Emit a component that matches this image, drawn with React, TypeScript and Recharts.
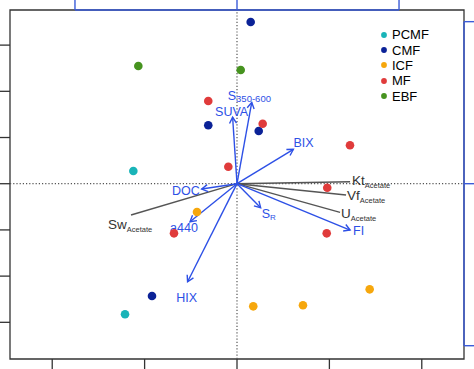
import React from "react";
import {
  Legend,
  ReferenceArea,
  ReferenceLine,
  Scatter,
  ScatterChart,
  XAxis,
  YAxis,
} from "recharts";

// site scores (bottom / left axes)
const pcmfX = [-1.122, -1.212];
const pcmfY = [0.137, -1.413];
const cmfX = [0.148, -0.311, 0.235, -0.92];
const cmfY = [1.75, 0.632, 0.57, -1.215];
const icfX = [-0.433, 0.176, 0.714, 1.436];
const icfY = [-0.306, -1.327, -1.316, -1.143];
const mfX = [-0.311, 0.278, 1.223, -0.094, 0.977, 0.971, -0.682];
const mfY = [0.895, 0.649, 0.416, 0.184, -0.043, -0.537, -0.537];
const ebfX = [-1.068, 0.04];
const ebfY = [1.274, 1.231];

const groupNames = ["PCMF", "CMF", "ICF", "MF", "EBF"];
const groupX = [pcmfX, cmfX, icfX, mfX, ebfX];
const groupY = [pcmfY, cmfY, icfY, mfY, ebfY];

// fitted vectors (top / right axes)
const vectorNames = ["S350", "SUVA", "BIX", "DOC", "SR", "FI", "a440", "HIX"];
const vectorMain = ["S", "SUVA", "BIX", "DOC", "S", "FI", "a440", "HIX"];
const vectorSub = ["350-600", "", "", "", "R", "", "", ""];
const vectorX = [0.091, -0.027, 0.348, -0.218, 0.146, 0.698, -0.29, -0.305];
const vectorY = [0.502, 0.41, 0.212, -0.033, -0.148, -0.286, -0.235, -0.605];

const kineticNames = ["Kt", "Vf", "U", "Sw"];
const kineticSub = ["Acetate", "Acetate", "Acetate", "Acetate"];
const kineticX = [0.698, 0.673, 0.636, -0.654];
const kineticY = [0.012, -0.07, -0.177, -0.193];

const siteTicksX = [-2, -1, 0, 1, 2];
const siteTicksY = [-1.5, -1, -0.5, 0, 0.5, 1, 1.5];
const vecTicks = [-1, 0, 1];

const colors: Record<string, string> = {
  PCMF: "#19b4b8",
  CMF: "#0b2297",
  ICF: "#f6a70d",
  MF: "#e03b3b",
  EBF: "#46931f",
};
const BLUE = "#2d50e6";
const AXBLUE = "#3a5bd8";
const GREY = "#555";
const FONT = "Liberation Sans, Arial, Helvetica, sans-serif";

const X_DOM: [number, number] = [-2.457, 2.457];
const Y_DOM: [number, number] = [-1.897, 1.88];
const VX_DOM: [number, number] = [-1.401, 1.401];
const VY_DOM: [number, number] = [-1.082, 1.072];

// label placement relative to the vector tip, in px
const labelPos: Record<string, { dx: number; dy: number; anchor: string }> = {
  S350: { dx: -24, dy: -2, anchor: "start" },
  SUVA: { dx: -1, dy: -1, anchor: "middle" },
  BIX: { dx: 0, dy: -2, anchor: "start" },
  DOC: { dx: -2, dy: 6, anchor: "end" },
  SR: { dx: 1, dy: 10, anchor: "start" },
  FI: { dx: 3, dy: 5, anchor: "start" },
  a440: { dx: -6, dy: 10, anchor: "middle" },
  HIX: { dx: -1, dy: 20, anchor: "middle" },
  Kt: { dx: 2, dy: 3.5, anchor: "start" },
  Vf: { dx: 1, dy: 5, anchor: "start" },
  U: { dx: 1, dy: 6, anchor: "start" },
  Sw: { dx: -23, dy: 14, anchor: "start" },
};

const seriesData = groupNames.map((g, gi) =>
  groupX[gi].map((x, i) => ({ x, y: groupY[gi][i] }))
);
const vectorTips = vectorX
  .map((x, i) => ({ vx: x, vy: vectorY[i] }))
  .concat(kineticX.map((x, i) => ({ vx: x, vy: kineticY[i] })));

function vectorShape(name: string, main: string, sub: string, arrow: boolean) {
  const pos = labelPos[name];
  const lineColor = arrow ? BLUE : GREY;
  const textColor = arrow ? BLUE : "#333";
  return (p: any) => {
    const { x1, y1, x2, y2 } = p;
    const ang = Math.atan2(y2 - y1, x2 - x1);
    const len = 7;
    const spread = Math.PI / 6;
    const hx1 = x2 - len * Math.cos(ang - spread);
    const hy1 = y2 - len * Math.sin(ang - spread);
    const hx2 = x2 - len * Math.cos(ang + spread);
    const hy2 = y2 - len * Math.sin(ang + spread);
    return (
      <g>
        <line x1={x1} y1={y1} x2={x2} y2={y2} stroke={lineColor} strokeWidth={1.4} />
        {arrow && (
          <polyline
            points={`${hx1},${hy1} ${x2},${y2} ${hx2},${hy2}`}
            fill="none"
            stroke={lineColor}
            strokeWidth={1.4}
          />
        )}
        <text
          x={x2 + pos.dx}
          y={y2 + pos.dy}
          textAnchor={pos.anchor as any}
          fill={textColor}
          fontFamily={FONT}
          fontSize={arrow ? 12.5 : 13.5}
        >
          {main}
          {sub && (
            <tspan fontSize={arrow ? (sub === "R" ? 8 : 9.5) : 7.5} dy={arrow ? 2 : 3}>
              {sub}
            </tspan>
          )}
        </text>
      </g>
    );
  };
}

function renderLegend() {
  return (
    <div style={{ fontFamily: FONT, fontSize: 13, color: "#000" }}>
      {groupNames.map((g) => (
        <div key={g} style={{ height: 15.4, display: "flex", alignItems: "center" }}>
          <svg width={10} height={10} style={{ marginRight: 3 }}>
            <circle cx={5} cy={5} r={2.9} fill={colors[g]} />
          </svg>
          <span>{g}</span>
        </div>
      ))}
    </div>
  );
}

export default function App() {
  const blankTick = () => "";
  return (
    <div style={{ position: "absolute", left: 0, top: 0, width: 474, height: 369, background: "#fff" }}>
      <ScatterChart width={474} height={369} margin={{ top: 9, right: 9, bottom: 9, left: 9 }}>
        <XAxis
          xAxisId="b"
          type="number"
          dataKey="x"
          domain={X_DOM}
          ticks={siteTicksX}
          allowDataOverflow
          height={1}
          tickSize={12}
          tickFormatter={blankTick}
          axisLine={false}
          tickLine={{ stroke: "#333", strokeWidth: 1.3 }}
        />
        <YAxis
          yAxisId="l"
          type="number"
          dataKey="y"
          domain={Y_DOM}
          ticks={siteTicksY}
          allowDataOverflow
          width={1}
          tickSize={12}
          tickFormatter={blankTick}
          axisLine={false}
          tickLine={{ stroke: "#333", strokeWidth: 1.3 }}
        />
        <XAxis
          xAxisId="t"
          orientation="top"
          type="number"
          dataKey="vx"
          domain={VX_DOM}
          ticks={vecTicks}
          allowDataOverflow
          height={1}
          tickSize={12}
          tickFormatter={blankTick}
          axisLine={false}
          tickLine={{ stroke: AXBLUE, strokeWidth: 1.4 }}
        />
        <YAxis
          yAxisId="r"
          orientation="right"
          type="number"
          dataKey="vy"
          domain={VY_DOM}
          ticks={vecTicks}
          allowDataOverflow
          width={1}
          tickSize={12}
          tickFormatter={blankTick}
          axisLine={false}
          tickLine={{ stroke: AXBLUE, strokeWidth: 1.4 }}
        />
        <ReferenceArea
          xAxisId="b"
          yAxisId="l"
          x1={X_DOM[0]}
          x2={X_DOM[1]}
          y1={Y_DOM[0]}
          y2={Y_DOM[1]}
          fill="none"
          fillOpacity={0}
          stroke="#333"
          strokeWidth={1.3}
          ifOverflow="visible"
        />
        <ReferenceLine xAxisId="b" yAxisId="l" x={0} stroke="#555" strokeWidth={1.2} strokeDasharray="1.2 2" />
        <ReferenceLine xAxisId="b" yAxisId="l" y={0} stroke="#555" strokeWidth={1.2} strokeDasharray="1.2 2" />
        <Scatter
          xAxisId="t"
          yAxisId="r"
          data={vectorTips}
          legendType="none"
          isAnimationActive={false}
          shape={() => <g />}
        />
        <ReferenceLine
          xAxisId="t"
          yAxisId="r"
          ifOverflow="visible"
          segment={[
            { x: vecTicks[0], y: VY_DOM[1] },
            { x: vecTicks[2], y: VY_DOM[1] },
          ]}
          stroke={AXBLUE}
          strokeWidth={1.4}
        />
        <ReferenceLine
          xAxisId="t"
          yAxisId="r"
          ifOverflow="visible"
          segment={[
            { x: VX_DOM[1], y: vecTicks[0] },
            { x: VX_DOM[1], y: vecTicks[2] },
          ]}
          stroke={AXBLUE}
          strokeWidth={1.4}
        />
        {kineticNames.map((n, i) => (
          <ReferenceLine
            key={n}
            xAxisId="t"
            yAxisId="r"
            ifOverflow="visible"
            segment={[
              { x: 0, y: 0 },
              { x: kineticX[i], y: kineticY[i] },
            ]}
            shape={vectorShape(n, n, kineticSub[i], false)}
          />
        ))}
        {vectorNames.map((n, i) => (
          <ReferenceLine
            key={n}
            xAxisId="t"
            yAxisId="r"
            ifOverflow="visible"
            segment={[
              { x: 0, y: 0 },
              { x: vectorX[i], y: vectorY[i] },
            ]}
            shape={vectorShape(n, vectorMain[i], vectorSub[i], true)}
          />
        ))}
        {groupNames.map((g, gi) => (
          <Scatter
            key={g}
            name={g}
            xAxisId="b"
            yAxisId="l"
            data={seriesData[gi]}
            fill={colors[g]}
            isAnimationActive={false}
            shape={(p: any) => <circle cx={p.cx} cy={p.cy} r={4.3} fill={colors[g]} />}
          />
        ))}
        <Legend
          layout="vertical"
          align="center"
          verticalAlign="middle"
          wrapperStyle={{ top: 27, left: 379, width: 80 }}
          content={renderLegend}
        />
      </ScatterChart>
    </div>
  );
}
